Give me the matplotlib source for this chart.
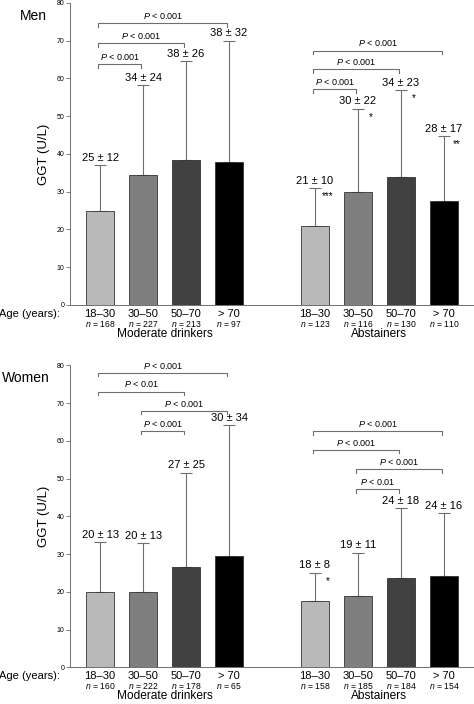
import numpy as np
import matplotlib
matplotlib.use("Agg")
import matplotlib.pyplot as plt
import matplotlib.transforms as mtransforms

plt.rcParams['font.family'] = ['Liberation Sans', 'DejaVu Sans']
plt.rcParams['mathtext.fontset'] = 'custom'
plt.rcParams['mathtext.rm'] = 'Liberation Sans'
plt.rcParams['mathtext.it'] = 'Liberation Sans:italic'

# ---------------- data ----------------
age_groups = ['18\u201330', '30\u201350', '50\u201370', '> 70']
groups = ['Moderate drinkers', 'Abstainers']
bar_colors = ['#b9b9b9', '#7f7f7f', '#414141', '#000000']

# men: bar heights, top of error bar, label text
men_mod_mean = [25.0, 34.4, 38.4, 37.8]
men_mod_top = [37.0, 58.3, 64.6, 70.0]
men_mod_lab = ['25 \u00b1 12', '34 \u00b1 24', '38 \u00b1 26', '38 \u00b1 32']
men_mod_n = [168, 227, 213, 97]
men_abs_mean = [21.0, 29.9, 34.0, 27.5]
men_abs_top = [31.0, 52.0, 57.0, 44.7]
men_abs_lab = ['21 \u00b1 10', '30 \u00b1 22', '34 \u00b1 23', '28 \u00b1 17']
men_abs_n = [123, 116, 130, 110]
men_abs_stars = ['***', '*', '*', '**']
# brackets: (group, i, j, height, text)
men_brackets = [
    (0, 0, 1, 63.8, '< 0.001'),
    (0, 0, 2, 69.3, '< 0.001'),
    (0, 0, 3, 74.6, '< 0.001'),
    (1, 0, 1, 57.1, '< 0.001'),
    (1, 0, 2, 62.4, '< 0.001'),
    (1, 0, 3, 67.4, '< 0.001'),
]

women_mod_mean = [20.0, 19.9, 26.7, 29.6]
women_mod_top = [33.2, 32.8, 51.6, 64.2]
women_mod_lab = ['20 \u00b1 13', '20 \u00b1 13', '27 \u00b1 25', '30 \u00b1 34']
women_mod_n = [160, 222, 178, 65]
women_abs_mean = [17.5, 19.0, 23.7, 24.3]
women_abs_top = [25.1, 30.4, 42.1, 40.8]
women_abs_lab = ['18 \u00b1 8', '19 \u00b1 11', '24 \u00b1 18', '24 \u00b1 16']
women_abs_n = [158, 185, 184, 154]
women_abs_stars = ['*', '', '', '']
women_brackets = [
    (0, 0, 3, 78.0, '< 0.001'),
    (0, 0, 2, 73.0, '< 0.01'),
    (0, 1, 3, 67.9, '< 0.001'),
    (0, 1, 2, 62.6, '< 0.001'),
    (1, 0, 3, 62.5, '< 0.001'),
    (1, 0, 2, 57.6, '< 0.001'),
    (1, 1, 3, 52.5, '< 0.001'),
    (1, 1, 2, 47.2, '< 0.01'),
]

y_ticks = [0, 10, 20, 30, 40, 50, 60, 70, 80]
gcolor = '#6e6e6e'


def draw_panel(ax, title, title_x, means, tops, labels, ns, stars, brackets):
    pos_groups = [np.arange(4), np.arange(4) + 5]
    for g in range(2):
        xs = pos_groups[g]
        m = np.array(means[g])
        t = np.array(tops[g])
        ax.bar(xs, m, width=0.66, color=bar_colors, edgecolor='#333333',
               linewidth=0.6, zorder=2)
        ax.errorbar(xs, m, yerr=[np.zeros(4), t - m], fmt='none',
                    ecolor=gcolor, elinewidth=0.8, capsize=4, capthick=0.8,
                    zorder=1)
        for k in range(4):
            ax.text(xs[k], t[k] + 0.6, labels[g][k], ha='center', va='bottom',
                    fontsize=8)
            if stars[g][k]:
                ax.text(xs[k] + 0.3, t[k] - 0.8, stars[g][k], ha='center',
                        va='top', fontsize=7)
        tr = mtransforms.blended_transform_factory(ax.transData, ax.transAxes)
        for k in range(4):
            ax.text(xs[k], -0.012, age_groups[k], transform=tr, ha='center',
                    va='top', fontsize=8)
            ax.text(xs[k], -0.045, r'$n$ = %d' % ns[g][k], transform=tr,
                    ha='center', va='top', fontsize=6.2)
        ax.text(xs.mean(), -0.075, groups[g], transform=tr, ha='center',
                va='top', fontsize=8.6)
    for g, i, j, h, txt in brackets:
        x1 = pos_groups[g][i] - 0.04
        x2 = pos_groups[g][j] - 0.04
        ax.plot([x1, x1, x2, x2], [h - 0.9, h, h, h - 0.9], color=gcolor,
                linewidth=0.8)
        ax.text((x1 + x2) / 2, h + 0.6, r'$P$ ' + txt, ha='center',
                va='bottom', fontsize=6.5)

    ax.set_xlim(-0.7, 8.7)
    ax.set_ylim(0, 80)
    ax.set_yticks(y_ticks)
    ax.tick_params(axis='y', labelsize=5, length=3, width=0.6, pad=1,
                   color=gcolor)
    ax.set_xticks([])
    ax.spines['top'].set_visible(False)
    ax.spines['right'].set_visible(False)
    ax.spines['left'].set_color(gcolor)
    ax.spines['bottom'].set_color(gcolor)
    ax.spines['left'].set_linewidth(0.7)
    ax.spines['bottom'].set_linewidth(0.7)
    ax.set_ylabel('GGT (U/L)', fontsize=9.5, labelpad=5)
    ax.text(title_x, 0.957, title, transform=ax.transAxes, ha='left',
            va='center', fontsize=10)
    ax.text(-0.025, -0.012, 'Age (years):', transform=ax.transAxes,
            ha='right', va='top', fontsize=8)


fig = plt.figure(figsize=(4.74, 7.04), dpi=100)
ax1 = fig.add_axes([0.1477, 0.5668, 0.8523, 0.429])
ax2 = fig.add_axes([0.1477, 0.0521, 0.8523, 0.429])

draw_panel(ax1, 'Men', -0.124, [men_mod_mean, men_abs_mean],
           [men_mod_top, men_abs_top],
           [men_mod_lab, men_abs_lab], [men_mod_n, men_abs_n],
           [['', '', '', ''], men_abs_stars], men_brackets)
draw_panel(ax2, 'Women', -0.168, [women_mod_mean, women_abs_mean],
           [women_mod_top, women_abs_top], [women_mod_lab, women_abs_lab],
           [women_mod_n, women_abs_n], [['', '', '', ''], women_abs_stars],
           women_brackets)

fig.savefig('out.png', dpi=100)
